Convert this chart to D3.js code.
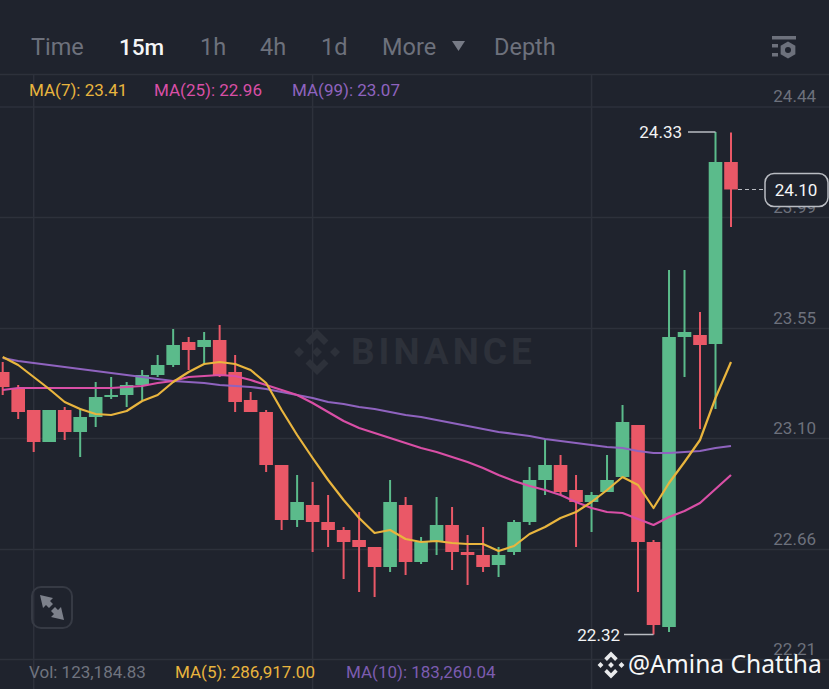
<!DOCTYPE html>
<html>
<head>
<meta charset="utf-8">
<script src="https://cdn.jsdelivr.net/npm/d3@7/dist/d3.min.js"></script>
<style>
html,body{margin:0;padding:0;background:#1f232d;overflow:hidden}
svg{display:block}
text{font-family:Roboto,sans-serif}
</style>
</head>
<body>
<svg id="chart" width="829" height="689"></svg>
<script>
// 15-minute candles, oldest first
const opens = [23.37,23.306,23.218,23.09,23.218,23.13,23.19,23.27,23.278,23.318,23.358,23.398,23.49,23.47,23.498,23.37,23.258,23.21,22.998,22.778,22.838,22.77,22.738,22.698,22.67,22.59,22.838,22.61,22.69,22.758,22.65,22.638,22.598,22.65,22.77,22.938,22.998,22.898,22.85,22.89,22.95,23.158,22.69,22.35,23.51,23.518,23.482,24.21];
const highs = [23.41,23.318,23.218,23.218,23.23,23.226,23.33,23.35,23.33,23.378,23.438,23.542,23.51,23.53,23.558,23.438,23.29,23.218,22.998,22.958,22.93,22.878,22.75,22.81,22.67,22.938,22.87,22.71,22.87,22.83,22.718,22.75,22.67,22.778,22.99,23.098,23.038,22.958,22.89,23.038,23.238,23.158,22.698,23.778,23.778,23.61,24.33,24.328];
const lows = [23.278,23.182,23.05,23.09,23.098,23.03,23.15,23.262,23.23,23.258,23.35,23.39,23.378,23.398,23.35,23.21,23.21,22.97,22.738,22.75,22.65,22.67,22.542,22.49,22.47,22.57,22.558,22.602,22.638,22.578,22.518,22.57,22.55,22.638,22.758,22.878,22.878,22.67,22.73,22.89,22.95,22.49,22.32,22.33,23.35,23.142,23.222,23.95];
const closes = [23.31,23.21,23.09,23.218,23.13,23.19,23.27,23.278,23.318,23.358,23.398,23.478,23.458,23.498,23.358,23.25,23.21,22.998,22.778,22.85,22.77,22.738,22.69,22.67,22.59,22.85,22.61,22.69,22.758,22.65,22.638,22.59,22.638,22.77,22.938,22.998,22.89,22.85,22.878,22.938,23.17,22.69,22.358,23.51,23.53,23.478,24.21,24.10];

// Moving averages, one value per candle
const ma7 = [23.43,23.398,23.35,23.302,23.25,23.222,23.202,23.198,23.214,23.254,23.278,23.33,23.37,23.402,23.41,23.402,23.378,23.326,23.218,23.118,23.026,22.938,22.858,22.786,22.726,22.738,22.702,22.69,22.694,22.686,22.682,22.682,22.654,22.674,22.722,22.75,22.786,22.81,22.85,22.898,22.95,22.918,22.826,22.926,23.01,23.098,23.266,23.41];
const ma25 = [23.298,23.306,23.306,23.306,23.306,23.306,23.306,23.306,23.31,23.314,23.326,23.334,23.35,23.354,23.358,23.354,23.338,23.318,23.298,23.278,23.246,23.21,23.174,23.146,23.126,23.106,23.086,23.066,23.05,23.03,23.01,22.986,22.958,22.934,22.914,22.898,22.878,22.85,22.826,22.81,22.806,22.782,22.758,22.79,22.814,22.846,22.902,22.958];
const ma99 = [23.426,23.414,23.406,23.398,23.39,23.382,23.374,23.366,23.358,23.35,23.342,23.334,23.33,23.326,23.318,23.314,23.31,23.302,23.29,23.278,23.266,23.25,23.242,23.23,23.222,23.21,23.198,23.19,23.178,23.166,23.154,23.142,23.13,23.122,23.114,23.102,23.094,23.086,23.078,23.07,23.066,23.054,23.046,23.046,23.05,23.054,23.066,23.074];

// Price axis
const gridPrices = [24.432,23.99,23.546,23.106,22.662,22.222];
const gridLabels = ["24.44","23.99","23.55","23.10","22.66","22.21"];
const timeGridCandles = [2,20,38];

// Header and status texts
const intervals = [["Time",31,false],["15m",119,true],["1h",200,false],["4h",260,false],["1d",321,false],["More",382,false],["Depth",494,false]];
const maLegend = [["MA(7): 23.41",29,"#e9b53e"],["MA(25): 22.96",154,"#d94fa6"],["MA(99): 23.07",292,"#8f63bf"]];
const volLegend = [["Vol: 123,184.83",29,"#70747f"],["MA(5): 286,917.00",175,"#e9b53e"],["MA(10): 183,260.04",346,"#7c5cb0"]];

const W = 829, H = 689;
const UP = "#5bbb8b", DOWN = "#ea5867", BG = "#1f232d", GRID = "#2d313b", AXIS = "#6d717c";
const svg = d3.select("#chart");
svg.append("rect").attr("width",W).attr("height",H).attr("fill",BG);

const x = d3.scalePoint().domain(d3.range(opens.length)).range([2.7,731]);
const y = d3.scaleLinear().domain([22.32,24.33]).range([634.5,132]);

// Grid
svg.append("line").attr("x1",0).attr("x2",W).attr("y1",74.5).attr("y2",74.5).attr("stroke",GRID).attr("stroke-width",1.5);
svg.append("g").selectAll("line").data(timeGridCandles).join("line")
  .attr("x1",d=>x(d)).attr("x2",d=>x(d)).attr("y1",75).attr("y2",H)
  .attr("stroke",GRID).attr("stroke-width",1.5);

const axis = d3.axisRight(y).tickValues(gridPrices).tickSize(W).tickFormat((d,i)=>gridLabels[i]);
const axisG = svg.append("g").call(axis);
axisG.select(".domain").remove();
axisG.selectAll("line").attr("stroke",GRID).attr("stroke-width",1.5);
axisG.selectAll("text").attr("x",816).attr("dy",0).attr("y",-9).attr("text-anchor","end")
  .attr("dominant-baseline","middle").attr("fill",AXIS).style("font-family","Roboto,sans-serif").style("font-size","17px");

// Exchange logo: four chevrons around a centre diamond, in a 48-unit box
const markPath = "M24,1L35.5,12.5L31,17L24,10L17,17L12.5,12.5Z M24,47L35.5,35.5L31,31L24,38L17,31L12.5,35.5Z M6,19L11,24L6,29L1,24Z M42,19L47,24L42,29L37,24Z M24,19L29,24L24,29L19,24Z";
function binanceMark(parent, cx, cy, halfSize, fill){
  const k = halfSize/24;
  parent.append("path").attr("d",markPath).attr("fill",fill)
    .attr("transform",`translate(${cx-24*k},${cy-24*k}) scale(${k})`);
}

// Watermark
const wm = svg.append("g");
binanceMark(wm,317,352,24,"#2d313a");
wm.append("text").attr("x",351).attr("y",364).attr("fill","#2d313a")
  .style("font-family","Roboto,sans-serif").style("font-size","37px").style("font-weight",700).style("letter-spacing","4px").text("BINANCE");

// Candles
const candles = svg.append("g").selectAll("g").data(d3.range(opens.length)).join("g");
const colour = i => closes[i] >= opens[i] ? UP : DOWN;
candles.append("line")
  .attr("x1",x).attr("x2",x)
  .attr("y1",i=>y(highs[i])).attr("y2",i=>y(lows[i]))
  .attr("stroke",colour).attr("stroke-width",2);
candles.append("rect")
  .attr("x",i=>x(i)-6.8).attr("width",13.6)
  .attr("y",i=>y(Math.max(opens[i],closes[i])))
  .attr("height",i=>Math.max(2,Math.abs(y(opens[i])-y(closes[i]))))
  .attr("fill",colour);

// Moving average lines
const maLine = d3.line().x((d,i)=>x(i)).y(d=>y(d));
[[ma99,"#8f63bf"],[ma25,"#d94fa6"],[ma7,"#e9b53e"]].forEach(([vals,c])=>{
  svg.append("path").attr("d",maLine(vals)).attr("fill","none").attr("stroke",c).attr("stroke-width",2.2).attr("stroke-linejoin","round");
});

// High and low callouts
const leader = "#b9bcc2";
const hiIdx = d3.maxIndex(highs), loIdx = d3.minIndex(lows);
svg.append("path").attr("d",`M688,${y(highs[hiIdx])}H${x(hiIdx)}`).attr("stroke",leader).attr("stroke-width",1.5).attr("fill","none");
svg.append("text").attr("x",682).attr("y",y(highs[hiIdx])+2).attr("text-anchor","end").attr("dominant-baseline","middle")
  .attr("fill","#f2f3f4").style("font-size","17px").text(highs[hiIdx].toFixed(2));
svg.append("path").attr("d",`M624,${y(lows[loIdx])}H${x(loIdx)}`).attr("stroke",leader).attr("stroke-width",1.5).attr("fill","none");
svg.append("text").attr("x",620).attr("y",y(lows[loIdx])+2).attr("text-anchor","end").attr("dominant-baseline","middle")
  .attr("fill","#f2f3f4").style("font-size","17px").text(lows[loIdx].toFixed(2));

// Last price tag
const last = closes[closes.length-1], lastY = y(last);
svg.append("line").attr("x1",738).attr("x2",765).attr("y1",lastY).attr("y2",lastY)
  .attr("stroke",leader).attr("stroke-width",1.2).attr("stroke-dasharray","4 3");
svg.append("rect").attr("x",765).attr("y",lastY-16).attr("width",63).attr("height",33).attr("rx",9)
  .attr("fill",BG).attr("stroke",leader).attr("stroke-width",1.5);
svg.append("text").attr("x",796).attr("y",lastY+2).attr("text-anchor","middle").attr("dominant-baseline","middle")
  .attr("fill","#f5f6f7").style("font-size","17px").text(last.toFixed(2));

// Interval bar
svg.append("g").selectAll("text").data(intervals).join("text")
  .attr("x",d=>d[1]).attr("y",49).attr("dominant-baseline","middle")
  .attr("fill",d=>d[2]?"#f5f6f7":"#6d717c").style("font-size",d=>d[2]?"22.5px":"23.5px").style("font-weight",d=>d[2]?500:400)
  .text(d=>d[0]);
svg.append("path").attr("d","M452,41H465L458.5,51Z").attr("fill","#777b86");

// Settings glyph
const gear = svg.append("g").attr("fill","#6d717c");
gear.append("rect").attr("x",772).attr("y",36).attr("width",24).attr("height",3.5);
gear.append("rect").attr("x",772).attr("y",44).attr("width",6).attr("height",3.5);
gear.append("rect").attr("x",772).attr("y",53).attr("width",6).attr("height",3.5);
gear.append("path").attr("d",d3.line()(d3.range(6).map(k=>[788+8.5*Math.sin(k*Math.PI/3),50+8.5*Math.cos(k*Math.PI/3)]))+"Z");
gear.append("circle").attr("cx",788).attr("cy",50).attr("r",3).attr("fill",BG);

// MA legends
const legendRow = (rows,yy)=>svg.append("g").selectAll("text").data(rows).join("text")
  .attr("x",d=>d[1]).attr("y",yy).attr("dominant-baseline","middle").attr("fill",d=>d[2])
  .style("font-size","17px").text(d=>d[0]);
legendRow(maLegend,92);
legendRow(volLegend,674);

// Expand button
const exp = svg.append("g");
exp.append("rect").attr("x",32).attr("y",587).attr("width",40).attr("height",41).attr("rx",9)
  .attr("fill","none").attr("stroke","#363a44").attr("stroke-width",2);
exp.append("path").attr("d","M40,595L53,598L50,601L53,604L49,608L46,605L43,608Z M64,620L51,617L54,614L51,611L55,607L58,610L61,607Z").attr("fill","#7d818b");

// Credit
binanceMark(svg.append("g"),611,665,14,"#e9eaec");
svg.append("text").attr("x",628).attr("y",666).attr("dominant-baseline","middle").attr("fill","#f7f8f8")
  .style("font-family","'Noto Sans',sans-serif").style("font-size","24.6px").text("@Amina Chattha");
</script>
</body>
</html>
